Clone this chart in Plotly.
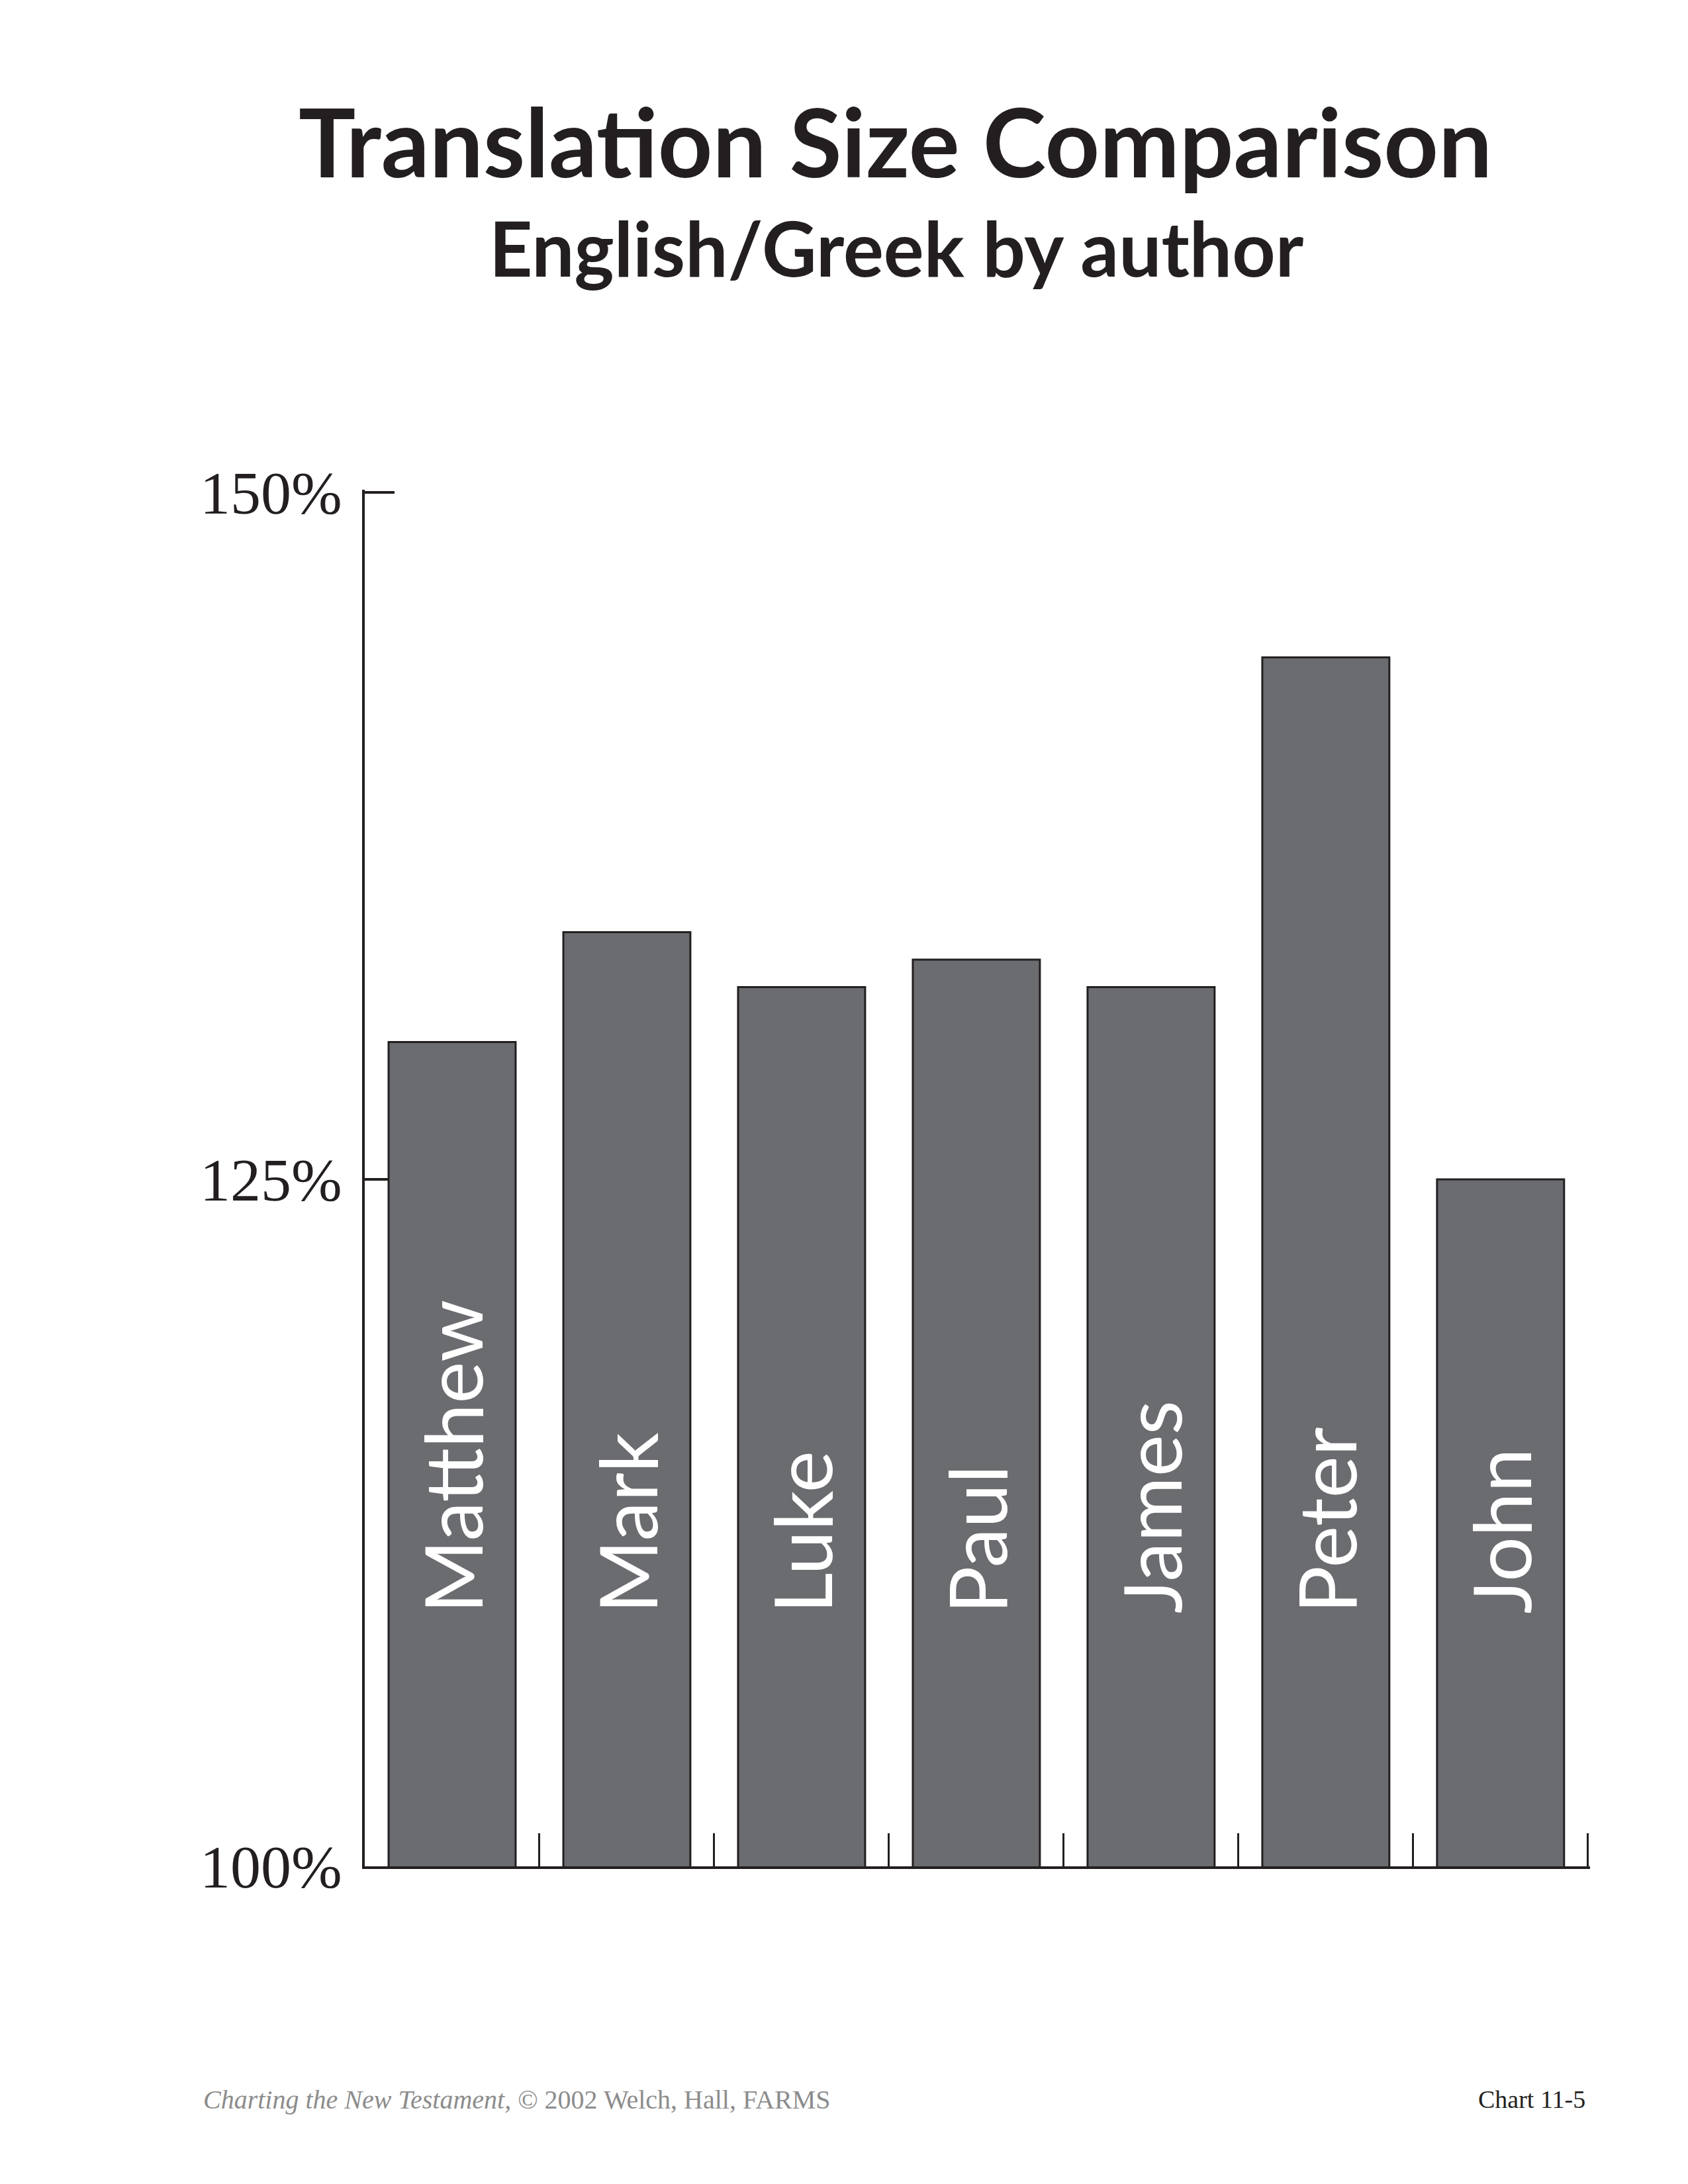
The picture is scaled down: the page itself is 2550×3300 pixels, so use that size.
import plotly.graph_objects as go

# data
authors = ["Matthew", "Mark", "Luke", "Paul", "James", "Peter", "John"]
ratio_pct = [130.0, 134.0, 132.0, 133.0, 132.0, 144.0, 125.0]
y_ticks = [100, 125, 150]
y_tick_text = ["100%", "125%", "150%"]

INK = "#231f20"
BAR = "#6b6c70"

W, H = 2550, 3300
# plot box; the small extra on top/right matches the nudged ranges below
L, R, T, B = 551, W - 2402, 740, H - 2820


def px_to_paper_y(py):
    return (H - B - py) / (H - T - B)


def px_to_paper_x(px):
    return (px - L) / (W - L - R)


fig = go.Figure()
fig.add_trace(go.Bar(
    x=authors,
    y=ratio_pct,
    marker=dict(color=BAR, line=dict(color=INK, width=3)),
    showlegend=False,
    hoverinfo="skip",
))

# white author names written up the bars
for name in authors:
    fig.add_annotation(
        x=name, y=109.15, xref="x", yref="y",
        text=name, textangle=-90, showarrow=False,
        xanchor="center", yanchor="bottom",
        font=dict(family="Lato", size=120, color="white"),
    )

fig.add_annotation(
    x=px_to_paper_x(1352), y=px_to_paper_y(213), xref="paper", yref="paper",
    text="<b>Translation Size Comparison</b>", showarrow=False,
    xanchor="center", yanchor="middle",
    font=dict(family="Lato", size=144, color=INK),
)
fig.add_annotation(
    x=px_to_paper_x(1354), y=px_to_paper_y(374), xref="paper", yref="paper",
    text="<b>English/Greek by author</b>", showarrow=False,
    xanchor="center", yanchor="middle",
    font=dict(family="Lato", size=114, color=INK),
)

# footer
fig.add_annotation(
    x=px_to_paper_x(305), y=px_to_paper_y(3172), xref="paper", yref="paper",
    text="<i>Charting the New Testament,</i> © 2002 Welch, Hall, FARMS",
    showarrow=False, xanchor="left", yanchor="middle",
    font=dict(family="Liberation Serif", size=40, color="#8c8c8c"),
)
fig.add_annotation(
    x=px_to_paper_x(2397), y=px_to_paper_y(3172), xref="paper", yref="paper",
    text="Chart 11-5", showarrow=False, xanchor="right", yanchor="middle",
    font=dict(family="Liberation Serif", size=38, color=INK),
)

fig.update_layout(
    width=W, height=H,
    margin=dict(l=L, r=R, t=T, b=B, pad=0),
    paper_bgcolor="white",
    plot_bgcolor="white",
    bargap=0.273,
)
# ranges nudged past the last boundary so plotly keeps the end ticks
fig.update_xaxes(
    range=[-0.5, 6.512],
    showline=True, linecolor=INK, linewidth=4,
    ticks="inside", tickson="boundaries", ticklen=50, tickwidth=3, tickcolor=INK,
    showticklabels=False, showgrid=False, zeroline=False,
    layer="below traces",
)
fig.update_yaxes(
    range=[100, 150.1],
    showline=True, linecolor=INK, linewidth=4,
    ticks="inside", ticklen=45, tickwidth=4, tickcolor=INK,
    tickvals=y_ticks, ticktext=y_tick_text,
    tickfont=dict(family="Liberation Serif", size=92, color=INK),
    ticklabelstandoff=12,
    showgrid=False, zeroline=False,
    layer="below traces",
)

fig.write_html(
    "out.html",
    config={"displayModeBar": False},
    post_script="document.body.style.margin='0';",
)
